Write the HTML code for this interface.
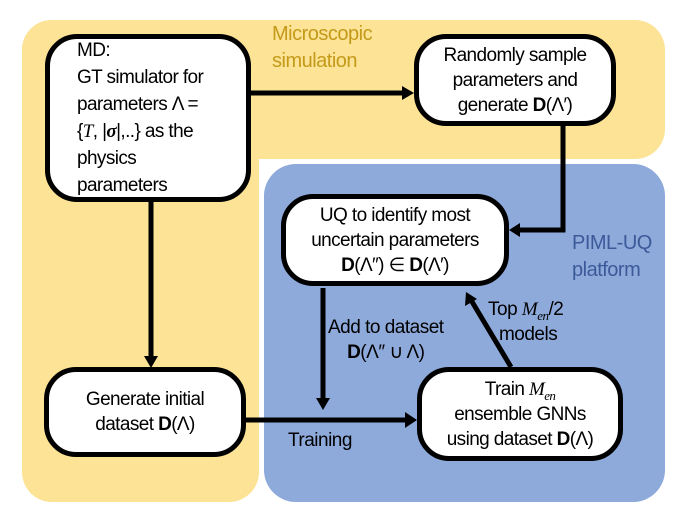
<!DOCTYPE html>
<html><head><style>
body{margin:0;background:#fff;}
.w{position:relative;width:694px;height:512px;overflow:hidden;font-family:"Liberation Sans",sans-serif;}
.b{position:absolute;box-sizing:border-box;border:5px solid #000;border-radius:32px;background:#fff;display:flex;align-items:center;justify-content:center;text-align:center;font-size:19px;line-height:25px;color:#000;letter-spacing:-0.6px}
.b>div{white-space:nowrap}
.t{position:absolute;font-size:19px;line-height:25px;white-space:nowrap;letter-spacing:-0.5px}
i{font-family:"Liberation Serif",serif}
</style></head><body><div class="w">
<div style="position:absolute;left:22px;top:20px;width:643px;height:139px;background:#fde395;border-radius:30px"></div>
<div style="position:absolute;left:22px;top:20px;width:237px;height:482px;background:#fde395;border-radius:30px"></div>
<div style="position:absolute;left:264px;top:164px;width:401px;height:338px;background:#8eaadb;border-radius:32px"></div>
<div class="t" style="left:272px;top:21px;color:#c49a1a;font-size:20px;line-height:27px">Microscopic<br>simulation</div>
<div class="t" style="left:572px;top:230px;color:#3c5a9a;font-size:20px;line-height:27px">PIML-UQ<br>platform</div>
<div class="b" style="left:45px;top:34px;width:206px;height:168px;justify-content:flex-start;text-align:left;padding-left:27px;line-height:27px"><div>MD:<br>GT simulator for<br>parameters Λ =<br>{<i>T</i>, |<b><i>σ</i></b>|,..} as the<br>physics<br>parameters</div></div>
<div class="b" style="left:414px;top:34px;width:202px;height:92px"><div>Randomly sample<br>parameters and<br>generate <b>D</b>(Λ′)</div></div>
<div class="b" style="left:281px;top:194px;width:228px;height:92px"><div>UQ to identify most<br>uncertain parameters<br><b>D</b>(Λ″) ∈ <b>D</b>(Λ′)</div></div>
<div class="b" style="left:44px;top:367px;width:202px;height:90px"><div>Generate initial<br>dataset <b>D</b>(Λ)</div></div>
<div class="b" style="left:417px;top:367px;width:206px;height:94px"><div>Train <i>M<sub style="font-size:13px;line-height:0">en</sub></i><br>ensemble GNNs<br>using dataset <b>D</b>(Λ)</div></div>
<div class="t" style="left:328px;top:315px;text-align:center">Add to dataset<br><b>D</b>(Λ″ ∪ Λ)</div>
<div class="t" style="left:488px;top:297px;text-align:center">Top <i>M<sub style="font-size:13px;line-height:0">en</sub></i>/2<br>&nbsp;models</div>
<div class="t" style="left:288px;top:428px">Training</div>
<svg width="694" height="512" style="position:absolute;left:0;top:0">
<g stroke="#000" stroke-width="5" fill="none">
<path d="M250 93H405"/>
<path d="M563 126V230H516"/>
<path d="M151 202V360"/>
<path d="M246 420H407"/>
<path d="M323 288V402"/>
<path d="M511 367L471 300"/>
</g>
<g fill="#000">
<path d="M414 93L402 86V100Z"/>
<path d="M509 230L520 223V237Z"/>
<path d="M151 368L144 356H158Z"/>
<path d="M417 420L405 412V428Z"/>
<path d="M323 410L316 398H330Z"/>
<path d="M466 292L465 306L477 299Z"/>
</g>
</svg>
</div></body></html>
